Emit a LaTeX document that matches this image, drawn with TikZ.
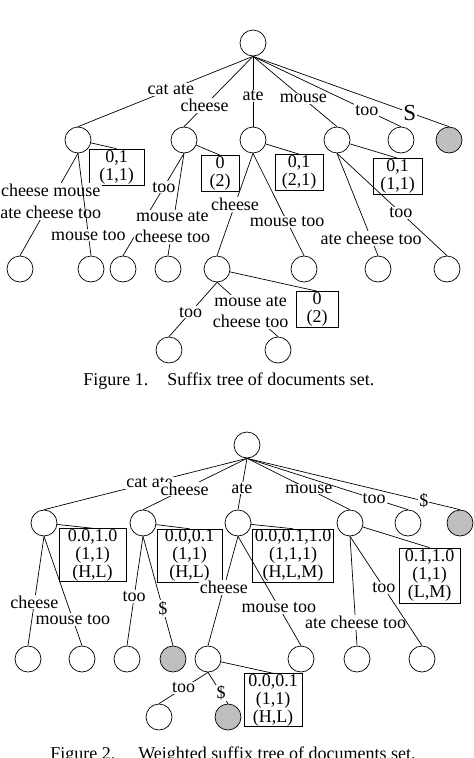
\documentclass[tikz,border=0pt]{standalone}
\usepackage{fontspec}
\setmainfont{Liberation Serif}
\newcommand{\lblfont}{\fontsize{18}{21.5}\selectfont}
\newcommand{\boxfont}{\fontsize{18}{18}\selectfont}
\tikzset{
  nd/.style={circle,draw,minimum size=26pt,inner sep=0pt},
  term/.style={nd,fill=gray!50},
  wbox/.style={draw,align=center,font=\boxfont,inner xsep=2pt,inner ysep=0.5pt,minimum height=36pt},
  lbl/.style={fill=white,inner sep=1pt,align=center,font=\lblfont},
}
\begin{document}
\begin{tikzpicture}[x=1pt,y=-1pt,line width=0.7pt]
\useasboundingbox (0,0) rectangle (474,758);

% Figure 1
\node[nd] (r) at (253,43) {};
\foreach \n/\x in {a/78,b/184,c/253,d/337,e/401}
  \node[nd] (\n) at (\x,140) {};
\node[term] (f) at (449,140) {};
\foreach \n/\x in {p1/20,p2/91,p3/123,p4/168,q/217,p5/304,p6/378,p7/447}
  \node[nd] (\n) at (\x,269) {};
\node[nd] (p8) at (169,350) {};
\node[nd] (p9) at (278,350) {};

\node[wbox,minimum width=55pt] (w1) at (116.5,167) {0,1\\(1,1)};
\node[wbox,minimum width=38pt] (w2) at (220,173.5) {0\\(2)};
\node[wbox,minimum width=48pt] (w3) at (299,172.5) {0,1\\(2,1)};
\node[wbox,minimum width=49pt] (w4) at (397.5,176.5) {0,1\\(1,1)};
\node[wbox,minimum width=42pt] (w5) at (317,309.5) {0\\(2)};

\foreach \s/\t/\p/\l in {r/a/.47/cat ate, r/b/.7/cheese, r/c/.56/ate, r/d/.6/mouse, r/e/.77/too,
    a/p1/.47/{cheese mouse\\ate cheese too}, a/p2/.8/mouse too,
    b/p3/.33/too, b/p4/.72/{mouse ate\\cheese too},
    c/q/.5/cheese, c/p5/.67/mouse too,
    d/p6/.83/ate cheese too, d/p7/.58/too,
    q/p8/.55/too, q/p9/.55/{mouse ate\\cheese too}}
  \draw (\s.south) -- node[lbl,pos=\p] {\l} (\t.north);
\draw (r.south) -- node[lbl,pos=.8,font=\fontsize{23}{23}\selectfont] {S} (f.north);

\foreach \s/\t in {a/w1,b/w2,c/w3,d/w4,q/w5}
  \draw (\s) -- (\t.north);

\node[anchor=base west,inner sep=0pt,font=\lblfont] (cap1) at (83,385)
  {Figure 1.\hspace{19pt}Suffix tree of documents set.};

% Figure 2
\node[nd] (R) at (247,445) {};
\foreach \n/\x in {A/44,B/143,C/238,D/350,E/408}
  \node[nd] (\n) at (\x,523) {};
\node[term] (F) at (460,523) {};
\foreach \n/\x in {L1/28,L2/82,L3/127,Q/208,L5/301,L6/357,L7/422}
  \node[nd] (\n) at (\x,659) {};
\node[term] (L4) at (173,659) {};
\node[nd] (L8) at (159,717) {};
\node[term] (L9) at (228,717) {};

\node[wbox,minimum width=67pt] (v1) at (92.5,555) {0.0,1.0\\(1,1)\\(H,L)};
\node[wbox,minimum width=65pt] (v2) at (189.5,555.5) {0.0,0.1\\(1,1)\\(H,L)};
\node[wbox,minimum width=80pt] (v3) at (293,555.5) {0.0,0.1,1.0\\(1,1,1)\\(H,L,M)};
\node[wbox,minimum width=61pt,minimum height=55pt] (v4) at (429.5,575.5) {0.1,1.0\\(1,1)\\(L,M)};
\node[wbox,minimum width=58pt] (v5) at (273,700) {0.0,0.1\\(1,1)\\(H,L)};

\foreach \s/\t/\p/\l in {R/A/.48/cat ate, R/B/.6/cheese, R/C/.58/ate, R/D/.6/mouse, R/E/.79/too, R/F/.83/\$,
    A/L1/.6/cheese, A/L2/.76/mouse too,
    B/L3/.55/too, B/L4/.66/\$,
    C/Q/.47/cheese, C/L5/.65/mouse too,
    D/L6/.79/ate cheese too, D/L7/.47/too,
    Q/L8/.5/too, Q/L9/.65/\$}
  \draw (\s.south) -- node[lbl,pos=\p] {\l} (\t.north);

\foreach \s/\t in {A/v1,B/v2,C/v3,D/v4,Q/v5}
  \draw (\s) -- (\t.north);

\node[anchor=base west,inner sep=0pt,font=\lblfont] (cap2) at (50,759)
  {Figure 2.\hspace{23pt}Weighted suffix tree of documents set.};
\end{tikzpicture}
\end{document}
